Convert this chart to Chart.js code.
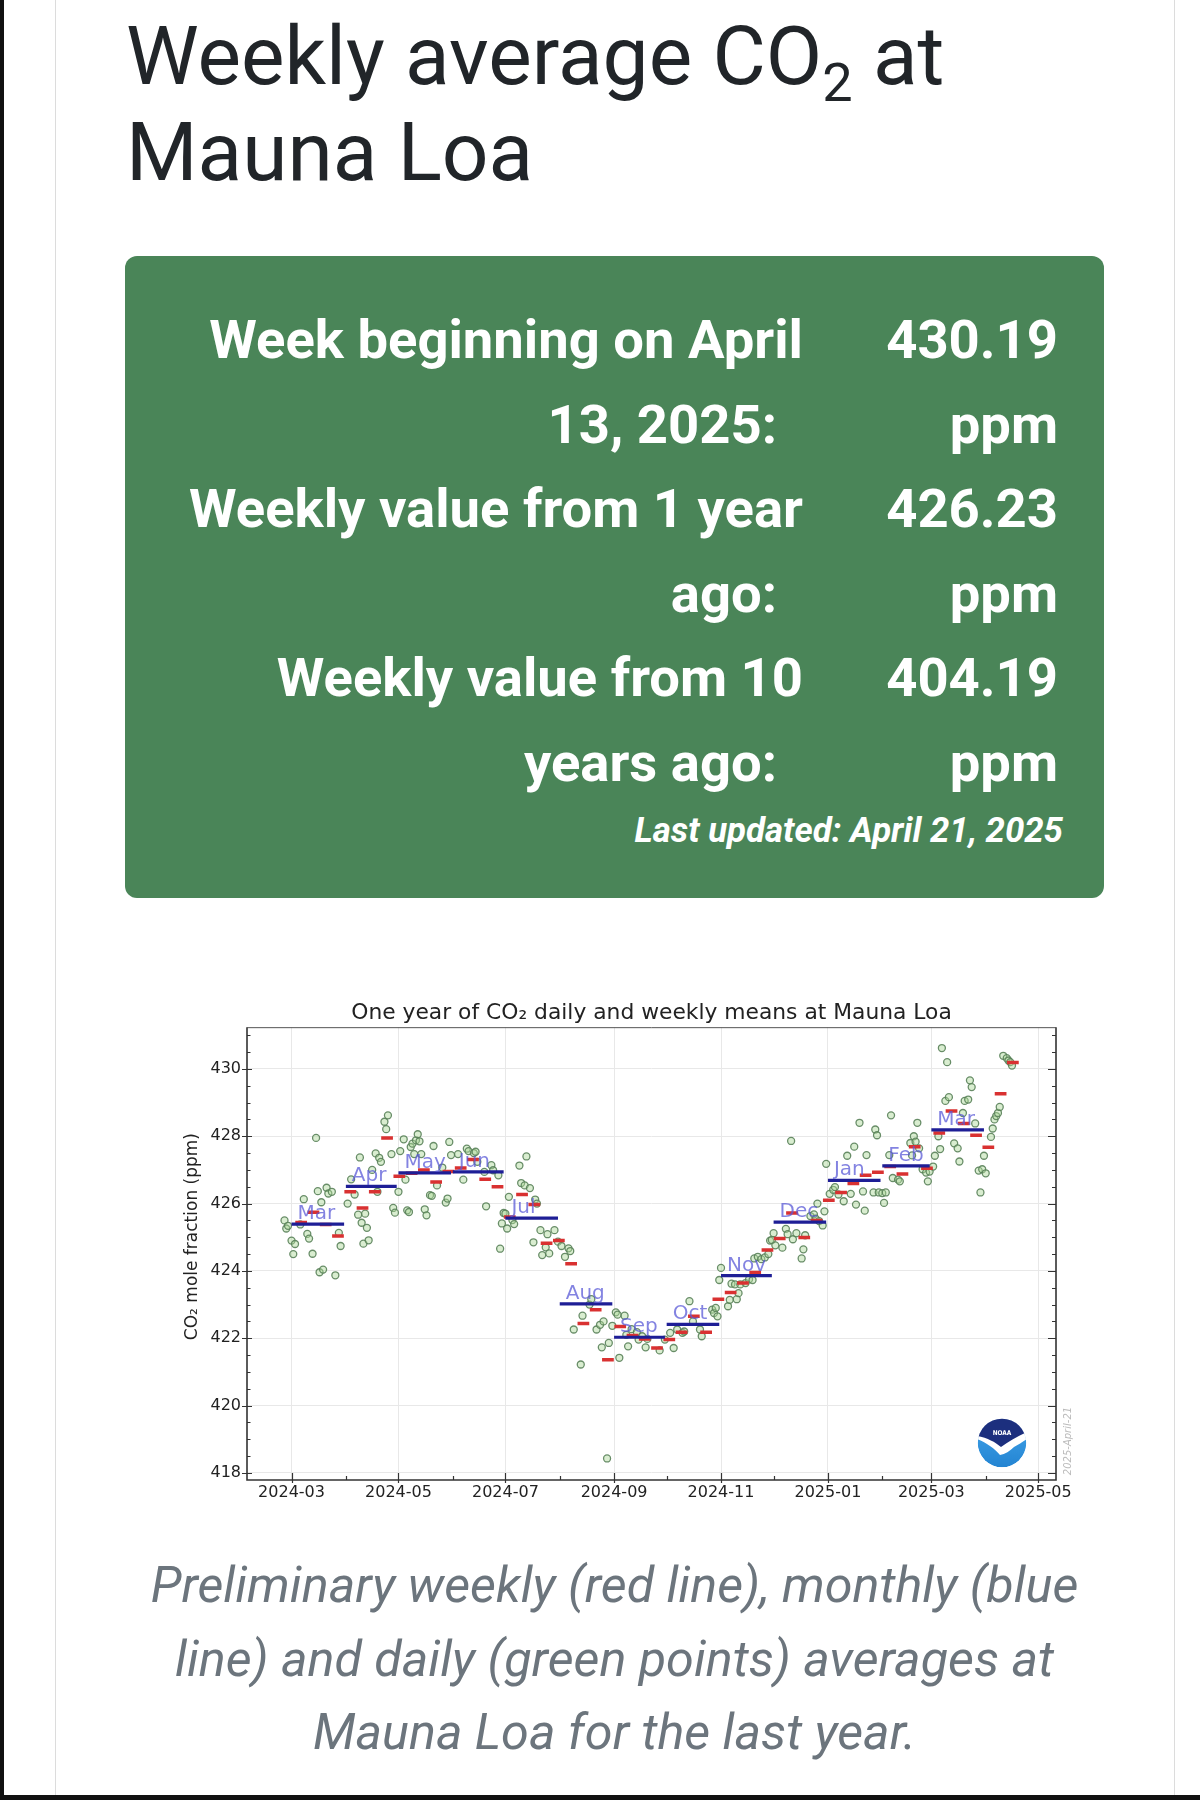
<!DOCTYPE html>
<html>
<head>
<meta charset="utf-8">
<script src="https://cdn.jsdelivr.net/npm/chart.js@4.4.1/dist/chart.umd.min.js"></script>
<style>
html,body{margin:0;padding:0;background:#fff;}
body{width:1200px;height:1800px;position:relative;overflow:hidden;font-family:Roboto,"Noto Sans",sans-serif;}
.abs{position:absolute;}
#lb{left:0;top:0;width:4px;height:1800px;background:#111;}
#bb{left:0;top:1795px;width:1200px;height:5px;background:#111;}
.vl{position:absolute;top:0;width:1px;height:1795px;background:#dcdcdc;}
h1{position:absolute;left:126px;top:8px;margin:0;font-weight:400;font-size:82px;line-height:96px;color:#212529;white-space:nowrap;}
h1 sub{font-size:0.66em;line-height:0;vertical-align:-17px;}
#box{position:absolute;left:125px;top:256px;width:979px;height:642px;background:#4a8558;border-radius:12px;}
.col{position:absolute;top:298px;font-weight:700;font-size:54.4px;line-height:84.6px;color:#fff;text-align:right;white-space:nowrap;}
#labs{right:397px;}
#labs .l2{padding-right:26px;}
#vals{right:142px;}
#upd{position:absolute;right:137px;top:810px;font-weight:700;font-style:italic;font-size:34.8px;line-height:40px;color:#fff;white-space:nowrap;}
#cw{position:absolute;left:140px;top:1000px;width:940px;height:533px;}
#cap{position:absolute;left:55px;width:1119px;top:1548px;font-style:italic;font-size:50.3px;line-height:73.5px;color:#6c757d;text-align:center;white-space:nowrap;}
#logo{position:absolute;left:977px;top:1418px;width:50px;height:50px;}
#stamp{position:absolute;left:1067px;top:1441px;transform:translate(-50%,-50%) rotate(-90deg);font-size:10px;font-style:italic;color:#bbb;font-family:"DejaVu Sans",sans-serif;white-space:nowrap;}
</style>
</head>
<body>
<div id="lb" class="abs"></div>
<div class="vl" style="left:55px"></div>
<div class="vl" style="left:1174px"></div>
<div id="bb" class="abs"></div>

<h1>Weekly average CO<sub>2</sub> at<br>Mauna Loa</h1>

<div id="box"></div>
<div id="labs" class="col">
  <div>Week beginning on April</div><div class="l2">13, 2025:</div>
  <div>Weekly value from 1 year</div><div class="l2">ago:</div>
  <div>Weekly value from 10</div><div class="l2">years ago:</div>
</div>
<div id="vals" class="col">
  <div>430.19</div><div>ppm</div>
  <div>426.23</div><div>ppm</div>
  <div>404.19</div><div>ppm</div>
</div>
<div id="upd">Last updated: April 21, 2025</div>

<div id="cw"><canvas id="c"></canvas></div>

<svg id="logo" viewBox="-25 -25 50 50">
  <defs>
    <linearGradient id="gb" x1="0" y1="0" x2="0" y2="1">
      <stop offset="0" stop-color="#45a6ea"/>
      <stop offset="1" stop-color="#2384d2"/>
    </linearGradient>
    <clipPath id="cc"><circle r="24.3"/></clipPath>
  </defs>
  <g clip-path="url(#cc)">
    <circle r="24.3" fill="url(#gb)"/>
    <path d="M-25,-4 C-15,0 -7,6 -2,12 C3,11 8,8 12,4 C16,2 20,-1 25,-4 L25,-25 L-25,-25 Z" fill="#fff"/>
    <path d="M-25,-7 C-14,-5 -7,-1 -1,4 C6,-1 14,-6 25,-11 L25,-25 L-25,-25 Z" fill="#1c2f7e"/>
  </g>
  <text x="0" y="-8" text-anchor="middle" font-family="DejaVu Sans Condensed, DejaVu Sans" font-weight="bold" font-size="6.5" fill="#fff">NOAA</text>
</svg>
<div id="stamp">2025-April-21</div>

<div id="cap">Preliminary weekly (red line), monthly (blue<br>line) and daily (green points) averages at<br>Mauna Loa for the last year.</div>

<script>
// ---------- data ----------
const xTickDates  = ["2024-03-01","2024-05-01","2024-07-01","2024-09-01","2024-11-01","2025-01-01","2025-03-01","2025-05-01"];
const xTickLabels = ["2024-03","2024-05","2024-07","2024-09","2024-11","2025-01","2025-03","2025-05"];
const xMinorDates = ["2024-04-01","2024-06-01","2024-08-01","2024-10-01","2024-12-01","2025-02-01","2025-04-01"];
const yTicks = [418,420,422,424,426,428,430];
const yAxisTitle = "CO₂ mole fraction (ppm)";

const monthLabels = ["Mar","Apr","May","Jun","Jul","Aug","Sep","Oct","Nov","Dec","Jan","Feb","Mar"];
const monthStarts = ["2024-03-01","2024-04-01","2024-05-01","2024-06-01","2024-07-01","2024-08-01","2024-09-01","2024-10-01","2024-11-01","2024-12-01","2025-01-01","2025-02-01","2025-03-01"];
const monthEnds   = ["2024-03-31","2024-04-30","2024-05-31","2024-06-30","2024-07-31","2024-08-31","2024-09-30","2024-10-31","2024-11-30","2024-12-31","2025-01-31","2025-02-28","2025-03-31"];
const monthlyValues = [425.39,426.51,426.91,426.94,425.57,423.02,422.03,422.41,423.86,425.45,426.69,427.12,428.19];

const weekStarts = ["2024-03-03","2024-03-10","2024-03-17","2024-03-24","2024-03-31","2024-04-07","2024-04-14","2024-04-21","2024-04-28",
 "2024-05-05","2024-05-12","2024-05-19","2024-05-26","2024-06-02","2024-06-09","2024-06-16","2024-06-23","2024-06-30",
 "2024-07-07","2024-07-14","2024-07-21","2024-07-28","2024-08-04","2024-08-11","2024-08-18","2024-08-25",
 "2024-09-01","2024-09-08","2024-09-15","2024-09-22","2024-09-29","2024-10-06","2024-10-13","2024-10-20","2024-10-27",
 "2024-11-03","2024-11-10","2024-11-17","2024-11-24","2024-12-01","2024-12-08","2024-12-15","2024-12-22","2024-12-29",
 "2025-01-05","2025-01-12","2025-01-19","2025-01-26","2025-02-02","2025-02-09","2025-02-16","2025-02-23",
 "2025-03-02","2025-03-09","2025-03-16","2025-03-23","2025-03-30","2025-04-06","2025-04-13"];
const weeklyValues = [425.44,425.74,425.38,425.04,426.35,425.87,426.35,427.95,426.81,
 426.90,427.00,426.64,426.95,427.06,427.31,426.72,426.50,425.60,
 426.27,425.97,424.82,424.90,424.21,422.44,422.85,421.36,
 422.35,422.08,421.98,421.71,421.96,422.18,422.65,422.18,423.16,
 423.36,423.64,423.95,424.62,424.96,425.72,424.99,425.50,426.10,
 426.33,426.60,426.84,426.93,427.10,426.88,427.69,427.05,
 428.10,428.75,428.38,428.03,427.67,429.26,430.19];

const dailyDates = [
 "2024-02-26","2024-02-27","2024-02-28",
 "2024-03-01","2024-03-02","2024-03-03","2024-03-06","2024-03-08","2024-03-10","2024-03-11","2024-03-13","2024-03-15","2024-03-16",
 "2024-03-17","2024-03-18","2024-03-19","2024-03-21","2024-03-22","2024-03-24","2024-03-26","2024-03-28","2024-03-29",
 "2024-04-02","2024-04-04","2024-04-06","2024-04-08","2024-04-09","2024-04-10","2024-04-11","2024-04-12","2024-04-13","2024-04-14",
 "2024-04-16","2024-04-18","2024-04-19","2024-04-20","2024-04-21","2024-04-23","2024-04-24","2024-04-25","2024-04-27","2024-04-28","2024-04-29",
 "2024-05-01","2024-05-02","2024-05-04","2024-05-05","2024-05-06","2024-05-07","2024-05-08","2024-05-09","2024-05-10","2024-05-11",
 "2024-05-12","2024-05-13","2024-05-14","2024-05-16","2024-05-17","2024-05-19","2024-05-20","2024-05-21","2024-05-23","2024-05-26",
 "2024-05-28","2024-05-29","2024-05-30","2024-05-31",
 "2024-06-04","2024-06-07","2024-06-09","2024-06-10","2024-06-13","2024-06-14","2024-06-15","2024-06-19","2024-06-20","2024-06-23",
 "2024-06-24","2024-06-27","2024-06-28","2024-06-29","2024-06-30",
 "2024-07-01","2024-07-02","2024-07-03","2024-07-05","2024-07-06","2024-07-09","2024-07-10","2024-07-12","2024-07-13","2024-07-15",
 "2024-07-17","2024-07-18","2024-07-19","2024-07-21","2024-07-22","2024-07-24","2024-07-25","2024-07-26","2024-07-29","2024-07-31",
 "2024-08-02","2024-08-04","2024-08-06","2024-08-07","2024-08-09","2024-08-13","2024-08-14","2024-08-18","2024-08-19","2024-08-22",
 "2024-08-24","2024-08-25","2024-08-26","2024-08-28","2024-08-29","2024-08-31",
 "2024-09-02","2024-09-03","2024-09-04","2024-09-07","2024-09-08","2024-09-09","2024-09-11","2024-09-14","2024-09-15","2024-09-17",
 "2024-09-19","2024-09-20","2024-09-27","2024-09-30",
 "2024-10-03","2024-10-05","2024-10-07","2024-10-10","2024-10-11","2024-10-14","2024-10-16","2024-10-20","2024-10-21","2024-10-27",
 "2024-10-28","2024-10-29","2024-10-30","2024-10-31",
 "2024-11-01","2024-11-05","2024-11-06","2024-11-07","2024-11-09","2024-11-10","2024-11-11","2024-11-12","2024-11-15","2024-11-17",
 "2024-11-19","2024-11-20","2024-11-22","2024-11-24","2024-11-26","2024-11-28","2024-11-29","2024-11-30",
 "2024-12-01","2024-12-02","2024-12-06","2024-12-08","2024-12-09","2024-12-11","2024-12-12","2024-12-14","2024-12-17","2024-12-18",
 "2024-12-19","2024-12-22","2024-12-24","2024-12-25","2024-12-26","2024-12-27","2024-12-29","2024-12-30","2024-12-31",
 "2025-01-02","2025-01-04","2025-01-05","2025-01-07","2025-01-10","2025-01-12","2025-01-14","2025-01-16","2025-01-17","2025-01-19",
 "2025-01-21","2025-01-22","2025-01-23","2025-01-27","2025-01-28","2025-01-29","2025-01-30",
 "2025-02-01","2025-02-02","2025-02-03","2025-02-05","2025-02-06","2025-02-07","2025-02-10","2025-02-11","2025-02-17","2025-02-18",
 "2025-02-19","2025-02-20","2025-02-21","2025-02-22","2025-02-24","2025-02-26","2025-02-27","2025-02-28",
 "2025-03-02","2025-03-03","2025-03-05","2025-03-06","2025-03-07","2025-03-09","2025-03-10","2025-03-11","2025-03-14","2025-03-16",
 "2025-03-17","2025-03-19","2025-03-20","2025-03-22","2025-03-23","2025-03-24","2025-03-26","2025-03-28","2025-03-29","2025-03-30","2025-03-31",
 "2025-04-01","2025-04-04","2025-04-05","2025-04-06","2025-04-07","2025-04-08","2025-04-09","2025-04-11","2025-04-13","2025-04-14","2025-04-15","2025-04-16"
];
const dailyValues = [
 425.50,425.26,425.34,
 424.90,424.50,424.80,425.38,426.13,425.10,424.96,424.51,427.95,426.37,
 423.96,426.04,424.04,426.47,426.30,426.35,423.87,425.13,424.74,
 426.00,426.72,426.27,425.67,427.37,425.43,424.81,425.70,425.28,424.91,
 427.00,427.49,426.35,427.36,427.24,428.43,428.21,428.62,427.47,425.87,425.73,
 426.35,427.56,427.91,426.71,425.80,425.75,427.68,427.78,427.47,427.88,
 428.06,427.85,427.47,425.83,425.65,426.25,426.23,427.71,426.54,427.07,
 426.03,426.15,427.83,427.44,
 427.47,426.71,427.63,427.56,427.50,427.54,427.24,426.94,425.92,427.14,
 426.99,426.84,424.66,425.41,425.72,
 425.70,425.26,426.20,425.51,425.39,427.13,426.61,426.54,427.40,426.46,
 424.85,426.12,426.00,425.21,424.47,424.70,425.09,424.52,425.21,424.87,
 424.74,424.42,424.67,424.59,422.26,421.22,422.67,423.00,423.16,422.26,
 422.40,421.73,422.50,418.43,421.86,422.37,
 422.77,422.70,421.42,422.67,422.10,421.76,422.27,422.18,421.96,422.06,
 421.73,421.98,421.64,421.96,
 422.16,421.71,422.26,422.16,422.20,423.10,422.50,422.26,422.06,422.85,
 422.75,422.90,422.65,423.73,
 424.09,422.95,423.14,423.62,423.60,423.16,423.34,423.60,423.64,423.75,
 423.73,424.37,424.42,424.35,424.40,424.50,424.90,424.92,
 425.12,424.76,424.69,425.25,425.09,427.86,424.94,425.12,424.37,424.64,
 425.06,425.63,425.68,425.55,426.00,425.48,425.35,425.77,427.18,
 426.29,426.41,426.49,426.27,426.07,427.42,426.29,427.69,425.97,428.40,
 426.36,425.79,427.44,426.33,428.20,428.03,426.33,
 426.31,426.02,426.33,427.44,428.62,426.76,426.71,426.66,427.80,427.43,
 428.00,427.84,428.40,427.64,427.02,426.92,426.66,426.95,
 427.10,427.42,428.00,427.62,430.62,429.05,430.20,429.16,427.79,427.64,
 427.25,428.69,429.05,429.09,429.66,429.46,428.38,426.98,426.33,427.02,427.42,
 426.90,427.98,428.23,428.50,428.60,428.69,428.87,430.39,430.32,430.25,430.20,430.10
];

// ---------- helpers ----------
const EPOCH = Date.UTC(2024, 2, 1);
function dayIndex(s) { const p = s.split('-').map(Number); return (Date.UTC(p[0], p[1]-1, p[2]) - EPOCH) / 86400000; }

const dailyPts = dailyDates.map((d,i) => ({x: dayIndex(d), y: dailyValues[i]}));
const weeklySegs = [];
weekStarts.forEach((d,i) => { const s = dayIndex(d); weeklySegs.push({x:s+0.15,y:weeklyValues[i]},{x:s+6.85,y:weeklyValues[i]},{x:s+6.9,y:null}); });
const monthlySegs = [];
monthStarts.forEach((d,i) => { const s = dayIndex(d), e = dayIndex(monthEnds[i]); monthlySegs.push({x:s,y:monthlyValues[i]},{x:e,y:monthlyValues[i]},{x:e+0.05,y:null}); });

const decoPlugin = {
  id: 'deco',
  afterDatasetsDraw(chart) {
    const {ctx, scales:{x, y}} = chart;
    ctx.save();
    ctx.font = '20px "DejaVu Sans"';
    ctx.fillStyle = 'rgba(90,90,215,0.75)';
    ctx.textBaseline = 'alphabetic';
    ctx.textAlign = 'left';
    monthStarts.forEach((d,i) => {
      ctx.fillText(monthLabels[i], x.getPixelForValue(dayIndex(d)) + 6, y.getPixelForValue(monthlyValues[i]) - 5);
    });
    ctx.restore();
  },
  afterDraw(chart) {
    const {ctx, chartArea:a, scales:{x, y}} = chart;
    ctx.save();
    ctx.font = '17px "DejaVu Sans"';
    ctx.fillStyle = '#222';
    ctx.textAlign = 'center';
    ctx.textBaseline = 'middle';
    ctx.translate(a.left - 54, a.top + (a.bottom - a.top) / 2 - 17);
    ctx.rotate(-Math.PI / 2);
    ctx.fillText(yAxisTitle, 0, 0);
    ctx.restore();

    ctx.save();
    ctx.strokeStyle = '#333';
    ctx.lineWidth = 1.2;
    ctx.beginPath();
    yTicks.forEach(v => { const p = Math.round(y.getPixelForValue(v)) + 0.5;
      ctx.moveTo(a.left - 5, p); ctx.lineTo(a.left + 5, p);
      ctx.moveTo(a.right - 8, p); ctx.lineTo(a.right, p); });
    for (let v = yTicks[0] - 0.5; v < y.max; v += 0.5) {
      if (yTicks.includes(v) || v < y.min) continue;
      const p = Math.round(y.getPixelForValue(v)) + 0.5;
      ctx.moveTo(a.left, p); ctx.lineTo(a.left + 3.5, p);
      ctx.moveTo(a.right - 4, p); ctx.lineTo(a.right, p);
    }
    xTickDates.forEach(d => { const p = Math.round(x.getPixelForValue(dayIndex(d))) + 0.5;
      ctx.moveTo(p, a.bottom + 3); ctx.lineTo(p, a.bottom - 7); });
    xMinorDates.forEach(d => { const p = Math.round(x.getPixelForValue(dayIndex(d))) + 0.5;
      ctx.moveTo(p, a.bottom); ctx.lineTo(p, a.bottom - 4); });
    ctx.stroke();
    ctx.lineWidth = 1.6;
    ctx.beginPath();
    ctx.moveTo(a.left, a.top); ctx.lineTo(a.left, a.bottom); ctx.lineTo(a.right, a.bottom); ctx.lineTo(a.right, a.top);
    ctx.stroke();
    ctx.strokeStyle = '#555'; ctx.lineWidth = 1;
    ctx.beginPath(); ctx.moveTo(a.left, a.top + 0.5); ctx.lineTo(a.right, a.top + 0.5); ctx.stroke();
    ctx.restore();
  }
};

const tickFont = {family: 'DejaVu Sans', size: 16, weight: 'normal'};
new Chart(document.getElementById('c'), {
  type: 'scatter',
  data: { datasets: [
    {type:'line', label:'Monthly', data: monthlySegs, borderColor:'#1e1e96', borderWidth:3.2, pointRadius:0, spanGaps:false, order:1},
    {type:'line', label:'Weekly', data: weeklySegs, borderColor:'#d93131', borderWidth:3.5, pointRadius:0, spanGaps:false, order:2},
    {label:'Daily', data: dailyPts, showLine:false, pointRadius:3.5, pointBorderWidth:1.3,
     pointBorderColor:'rgba(90,130,90,0.9)', pointBackgroundColor:'rgba(170,215,150,0.45)', order:3}
  ]},
  options: {
    responsive: true, maintainAspectRatio: false, animation: false, devicePixelRatio: 1,
    layout: {padding: {left:0, right:24, top:0, bottom:0}},
    plugins: {
      legend: {display:false}, tooltip: {enabled:false},
      title: {display:true, fullSize:false, text:'One year of CO₂ daily and weekly means at Mauna Loa', color:'#222',
              font:{family:'DejaVu Sans', size:21.8, weight:'normal'}, padding:{top:0, bottom:1}}
    },
    scales: {
      x: {
        type:'linear', min: dayIndex('2024-02-05') - 0.4, max: dayIndex('2025-05-11') + 0.1,
        afterBuildTicks(s) { s.ticks = xTickDates.map(d => ({value: dayIndex(d)})); },
        afterFit(s) { s.height = 53; },
        ticks: {autoSkip:false, maxRotation:0, color:'#222', font:tickFont, padding:3,
                callback: (v, i) => xTickLabels[i]},
        grid: {color:'#e8e8e8', lineWidth:1, drawTicks:false},
        border: {display:false}
      },
      y: {
        min: 417.79, max: 431.24,
        afterBuildTicks(s) { s.ticks = yTicks.map(v => ({value: v})); },
        afterFit(s) { s.width = 107; },
        ticks: {color:'#222', font:tickFont, padding:6, callback: v => String(v)},
        grid: {color:'#e8e8e8', lineWidth:1, drawTicks:false},
        border: {display:false}
      }
    }
  },
  plugins: [decoPlugin]
});
</script>
</body>
</html>
